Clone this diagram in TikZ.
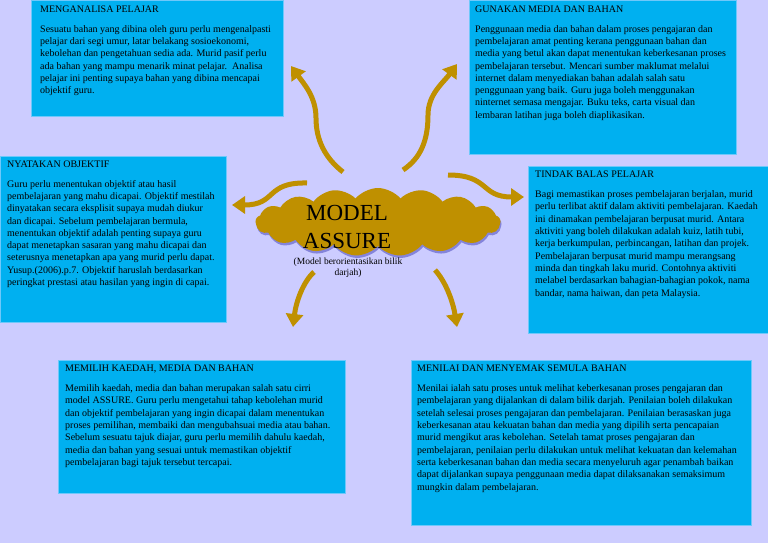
\documentclass[tikz,border=0pt]{standalone}
\usepackage{fontspec}
\setmainfont{Liberation Serif}
\usetikzlibrary{positioning,shapes.symbols,arrows.meta,shadows}
\definecolor{lavenderbg}{RGB}{204,204,255}
\definecolor{boxblue}{RGB}{0,176,240}
\definecolor{boxedge}{RGB}{110,200,250}
\definecolor{goldarrow}{RGB}{191,144,0}
\newcommand{\gap}[0] {7.5pt}

\begin{document}
\begin{tikzpicture}[x=1pt,y=-1pt,
        infobox/.style={draw=boxedge,line width=0.6pt,fill=boxblue,anchor=north west,inner sep=0pt},
        boxtext/.style={inner sep=0pt,align=left,font=\fontsize{10}{12.3}\selectfont},
        flow/.style={draw=goldarrow,line width=5pt,-{Triangle[width=17pt,length=13pt]}}]
        \fill[lavenderbg] (0,0) rectangle (768,543);
        \useasboundingbox (0,0) rectangle (768,543);

        %boxes
        \node[infobox,minimum width=252pt,minimum height=116pt] (analisa) at (31,0) {};
        \node[infobox,minimum width=267pt,minimum height=154pt] (gunakan) at (469,0) {};
        \node[infobox,minimum width=226pt,minimum height=166pt] (nyatakan) at (0,156) {};
        \node[infobox,minimum width=240pt,minimum height=167pt] (tindak) at (528,166) {};
        \node[infobox,minimum width=287pt,minimum height=133pt] (memilih) at (58,360) {};
        \node[infobox,minimum width=340pt,minimum height=165pt] (menilai) at (411,360) {};

        \node[boxtext,below right=5.5pt and 9pt of analisa.north west] (analisatext) {MENGANALISA PELAJAR\\[\gap]
            Sesuatu bahan yang dibina oleh guru perlu mengenalpasti\\
            pelajar dari segi umur, latar belakang sosioekonomi,\\
            kebolehan dan pengetahuan sedia ada. Murid pasif perlu\\
            ada bahan yang mampu menarik minat pelajar.\ \ Analisa\\
            pelajar ini penting supaya bahan yang dibina mencapai\\
            objektif guru.};
        \node[boxtext,below right=5.5pt and 6pt of gunakan.north west] (gunakantext) {GUNAKAN MEDIA DAN BAHAN\\[\gap]
            Penggunaan media dan bahan dalam proses pengajaran dan\\
            pembelajaran amat penting kerana penggunaan bahan dan\\
            media yang betul akan dapat menentukan keberkesanan proses\\
            pembelajaran tersebut. Mencari sumber maklumat melalui\\
            internet dalam menyediakan bahan adalah salah satu\\
            penggunaan yang baik. Guru juga boleh menggunakan\\
            ninternet semasa mengajar. Buku teks, carta visual dan\\
            lembaran latihan juga boleh diaplikasikan.};
        \node[boxtext,below right=4.5pt and 7pt of nyatakan.north west] (nyatakantext) {NYATAKAN OBJEKTIF\\[\gap]
            Guru perlu menentukan objektif atau hasil\\
            pembelajaran yang mahu dicapai. Objektif mestilah\\
            dinyatakan secara eksplisit supaya mudah diukur\\
            dan dicapai. Sebelum pembelajaran bermula,\\
            menentukan objektif adalah penting supaya guru\\
            dapat menetapkan sasaran yang mahu dicapai dan\\
            seterusnya menetapkan apa yang murid perlu dapat.\\
            Yusup.(2006).p.7. Objektif haruslah berdasarkan\\
            peringkat prestasi atau hasilan yang ingin di capai.};
        \node[boxtext,below right=5pt and 7pt of tindak.north west] (tindaktext) {TINDAK BALAS PELAJAR\\[\gap]
            Bagi memastikan proses pembelajaran berjalan, murid\\
            perlu terlibat aktif dalam aktiviti pembelajaran. Kaedah\\
            ini dinamakan pembelajaran berpusat murid. Antara\\
            aktiviti yang boleh dilakukan adalah kuiz, latih tubi,\\
            kerja berkumpulan, perbincangan, latihan dan projek.\\
            Pembelajaran berpusat murid mampu merangsang\\
            minda dan tingkah laku murid. Contohnya aktiviti\\
            melabel berdasarkan bahagian-bahagian pokok, nama\\
            bandar, nama haiwan, dan peta Malaysia.};
        \node[boxtext,below right=5pt and 7pt of memilih.north west] (memilihtext) {MEMILIH KAEDAH, MEDIA DAN BAHAN\\[\gap]
            Memilih kaedah, media dan bahan merupakan salah satu cirri\\
            model ASSURE. Guru perlu mengetahui tahap kebolehan murid\\
            dan objektif pembelajaran yang ingin dicapai dalam menentukan\\
            proses pemilihan, membaiki dan mengubahsuai media atau bahan.\\
            Sebelum sesuatu tajuk diajar, guru perlu memilih dahulu kaedah,\\
            media dan bahan yang sesuai untuk memastikan objektif\\
            pembelajaran bagi tajuk tersebut tercapai.};
        \node[boxtext,below right=5pt and 6pt of menilai.north west] (menilaitext) {MENILAI DAN MENYEMAK SEMULA BAHAN\\[\gap]
            Menilai ialah satu proses untuk melihat keberkesanan proses pengajaran dan\\
            pembelajaran yang dijalankan di dalam bilik darjah. Penilaian boleh dilakukan\\
            setelah selesai proses pengajaran dan pembelajaran. Penilaian berasaskan juga\\
            keberkesanan atau kekuatan bahan dan media yang dipilih serta pencapaian\\
            murid mengikut aras kebolehan. Setelah tamat proses pengajaran dan\\
            pembelajaran, penilaian perlu dilakukan untuk melihat kekuatan dan kelemahan\\
            serta keberkesanan bahan dan media secara menyeluruh agar penambah baikan\\
            dapat dijalankan supaya penggunaan media dapat dilaksanakan semaksimum\\
            mungkin dalam pembelajaran.};

        %centre cloud
        \node[cloud,cloud puffs=17,cloud puff arc=100,aspect=3.6,minimum width=245pt,minimum height=68pt,
            inner sep=0pt,fill=goldarrow,
            drop shadow={shadow xshift=1pt,shadow yshift=-2.5pt,fill=blue!60!black,opacity=0.35}] (assure) at (378,222) {};
        \node[inner sep=0pt,align=center,font=\fontsize{23}{28}\selectfont] (assuretitle) at (347,227) {MODEL\\ASSURE};
        \node[inner sep=0pt,align=center,font=\fontsize{9.5}{11}\selectfont] (assuresub) at (348,268) {(Model berorientasikan bilik\\darjah)};

        %arrows
        \coordinate (tailA) at (343,172);
        \coordinate (bendA) at (316,118);
        \coordinate (tipA) at (291,66);
        \coordinate (tailB) at (403,170);
        \coordinate (bendB) at (428,115);
        \coordinate (tipB) at (457,64);
        \coordinate (tailC) at (307,183);
        \coordinate (tipC) at (232,205);
        \coordinate (tailD) at (448,175);
        \coordinate (tipD) at (524,197);
        \coordinate (tailE) at (314,272);
        \coordinate (tipE) at (293,327);
        \coordinate (tailF) at (435,270);
        \coordinate (tipF) at (457,327);
        \draw[flow] (tailA) .. controls (325,158) and (316,140) .. (bendA) .. controls (316,97) and (304,84) .. (tipA);
        \draw[flow] (tailB) .. controls (421,158) and (428,140) .. (bendB) .. controls (428,94) and (444,82) .. (tipB);
        \draw[flow] (tailC) .. controls (265,182) and (277,205) .. (tipC);
        \draw[flow] (tailD) .. controls (490,175) and (480,197) .. (tipD);
        \draw[flow] (tailE) .. controls (303,282) and (296,302) .. (tipE);
        \draw[flow] (tailF) .. controls (446,282) and (453,302) .. (tipF);
\end{tikzpicture}
\end{document}
